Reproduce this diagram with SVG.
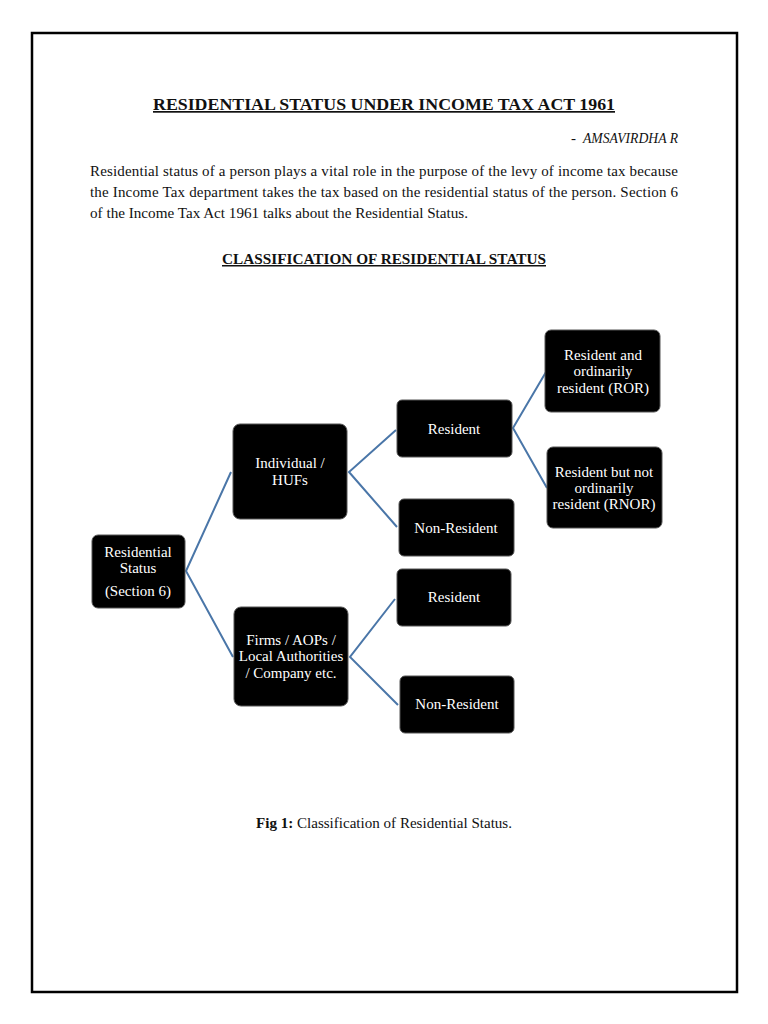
<svg xmlns="http://www.w3.org/2000/svg" width="768" height="1024" viewBox="0 0 768 1024">
<style>
.t{font-family:"Liberation Serif","Times New Roman",serif;fill:#111}
.h{font-weight:bold;text-decoration:underline}
.n{fill:#000;stroke:#555;stroke-width:1}
.nt{font-family:"Liberation Serif","Times New Roman",serif;font-size:15px;fill:#fff;text-anchor:middle}
.c{stroke:#4a76a8;stroke-width:2;fill:none}
</style>
<rect x="0" y="0" width="768" height="1024" fill="#fff"/>
<rect x="32" y="33" width="705" height="959" fill="none" stroke="#000" stroke-width="2.5"/>
<text class="t h" x="153" y="110" font-size="17" textLength="462" lengthAdjust="spacingAndGlyphs">RESIDENTIAL STATUS UNDER INCOME TAX ACT 1961</text>
<text class="t" x="571" y="143" font-size="15">-</text>
<text class="t" x="583" y="143" font-size="15" font-style="italic" textLength="95" lengthAdjust="spacingAndGlyphs">AMSAVIRDHA R</text>
<text class="t" x="90" y="176" font-size="15" textLength="588" lengthAdjust="spacing">Residential status of a person plays a vital role in the purpose of the levy of income tax because</text>
<text class="t" x="90" y="197" font-size="15" textLength="588" lengthAdjust="spacing">the Income Tax department takes the tax based on the residential status of the person. Section 6</text>
<text class="t" x="90" y="218" font-size="15" textLength="378" lengthAdjust="spacingAndGlyphs">of the Income Tax Act 1961 talks about the Residential Status.</text>
<text class="t h" x="222" y="264" font-size="15" textLength="324" lengthAdjust="spacingAndGlyphs">CLASSIFICATION OF RESIDENTIAL STATUS</text>
<g id="connectors">
<polyline class="c" points="231,472 186,571 233,657"/>
<polyline class="c" points="396,430 349,472 397,527"/>
<polyline class="c" points="395,599 350,657 398,705"/>
<polyline class="c" points="546,372 513,428 547,488"/>
</g>
<g id="n-residential"><rect class="n" x="92" y="535" width="93" height="73" rx="6"/><text class="nt" x="138" y="557">Residential</text><text class="nt" x="138" y="573">Status</text><text class="nt" x="138" y="596">(Section 6)</text></g>
<g id="n-individual"><rect class="n" x="233" y="424" width="114" height="95" rx="7"/><text class="nt" x="290" y="468">Individual /</text><text class="nt" x="290" y="485">HUFs</text></g>
<g id="n-firms"><rect class="n" x="234" y="607" width="114" height="99" rx="7"/><text class="nt" x="291" y="645">Firms / AOPs /</text><text class="nt" x="291" y="661">Local Authorities</text><text class="nt" x="291" y="678">/ Company etc.</text></g>
<g id="n-res1"><rect class="n" x="397" y="400" width="115" height="57" rx="5"/><text class="nt" x="454" y="434">Resident</text></g>
<g id="n-nonres1"><rect class="n" x="399" y="499" width="115" height="57" rx="5"/><text class="nt" x="456" y="533">Non-Resident</text></g>
<g id="n-ror"><rect class="n" x="545" y="330" width="115" height="82" rx="6"/><text class="nt" x="603" y="360">Resident and</text><text class="nt" x="603" y="376">ordinarily</text><text class="nt" x="603" y="393">resident (ROR)</text></g>
<g id="n-rnor"><rect class="n" x="547" y="447" width="115" height="81" rx="6"/><text class="nt" x="604" y="477">Resident but not</text><text class="nt" x="604" y="493">ordinarily</text><text class="nt" x="604" y="509">resident (RNOR)</text></g>
<g id="n-res2"><rect class="n" x="397" y="569" width="114" height="57" rx="5"/><text class="nt" x="454" y="602">Resident</text></g>
<g id="n-nonres2"><rect class="n" x="400" y="676" width="114" height="57" rx="5"/><text class="nt" x="457" y="709">Non-Resident</text></g>
<text class="t" x="256" y="828" font-size="15" textLength="256" lengthAdjust="spacingAndGlyphs"><tspan font-weight="bold">Fig 1:</tspan> Classification of Residential Status.</text>
</svg>
